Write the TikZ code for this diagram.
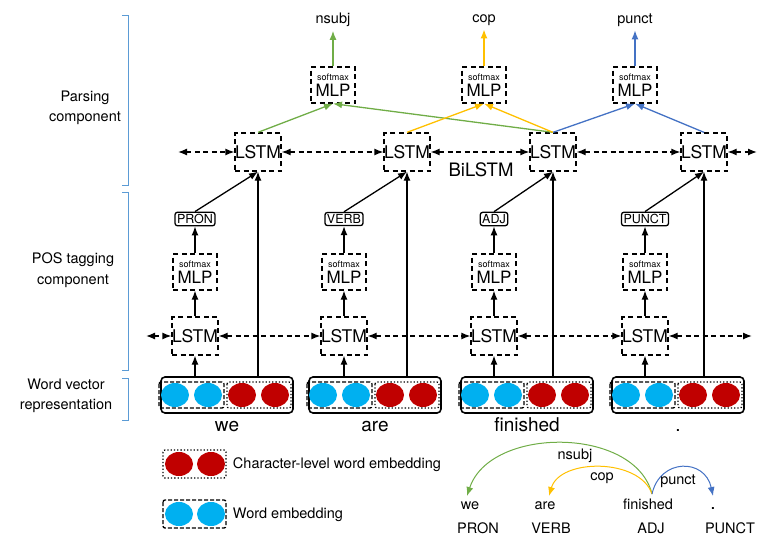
\documentclass[tikz,border=0pt]{standalone}
\usepackage{fontspec}
\setmainfont{TeX Gyre Heros}
\usetikzlibrary{arrows.meta,shapes.geometric}
\definecolor{cblue}{RGB}{0,176,240}
\definecolor{cred}{RGB}{192,0,0}
\definecolor{cgreen}{RGB}{112,173,71}
\definecolor{cyel}{RGB}{255,192,0}
\definecolor{cdblue}{RGB}{68,114,196}
\definecolor{cbrk}{RGB}{91,155,213}
\begin{document}
\begin{tikzpicture}[x=1pt,y=-1pt,line width=1.3pt,
 dsh/.style={dash pattern=on 5pt off 3.5pt},
 lstm/.style={draw,dsh,minimum width=46pt,minimum height=38pt,font=\fontsize{17.5}{17.5}\selectfont,inner sep=0pt},
 mlp/.style={draw,dsh,minimum width=44pt,minimum height=36pt,inner sep=0pt},
 tag/.style={draw,rounded corners=2.5pt,font=\fontsize{12.5}{12.5}\selectfont,inner sep=2pt},
 blk/.style={draw,line width=1.6pt,rounded corners=4pt,minimum width=132pt,minimum height=36pt},
 eb/.style={fill=cblue,ellipse,minimum width=28pt,minimum height=24pt,inner sep=0pt},
 er/.style={fill=cred,ellipse,minimum width=28pt,minimum height=24pt,inner sep=0pt},
 arr/.style={-{Latex[length=9pt,width=7pt]}},
 darr/.style={{Latex[length=9pt,width=7pt]}-{Latex[length=9pt,width=7pt]},dsh},
 wd/.style={font=\fontsize{19}{19}\selectfont},
 lab/.style={font=\fontsize{14.5}{14.5}\selectfont},
 brk/.style={cbrk,line width=1pt}]
\useasboundingbox (0,0) rectangle (763,554);
\newcommand{\mlplabel}{\shortstack{\fontsize{9}{9}\selectfont softmax\\[1pt]\fontsize{17}{17}\selectfont MLP}}
% brackets
\draw[brk] (122,15)--(128,15)--(128,185)--(122,185);
\draw[brk] (122,192)--(128,192)--(128,370)--(122,370);
\draw[brk] (122,378)--(128,378)--(128,420)--(122,420);
\node[lab,align=center] at (85,108) {Parsing\\[6pt]component};
\node[lab,align=center] at (73,270) {POS tagging\\[6pt]component};
\node[lab,align=center] at (66,396) {Word vector\\[5pt]representation};
% word blocks
\foreach \i/\x/\w/\px/\tt in {1/227/we/195/PRON,2/375/are/344/VERB,3/527/finished/494/ADJ,4/678/./645/PUNCT}{
 \node[blk] (b\i) at (\x,395) {};
 \node[eb] (e\i a) at (\x-52,395) {};
 \node[eb] (e\i b) at (\x-19,395) {};
 \node[er] (r\i a) at (\x+15,395) {};
 \node[er] (r\i b) at (\x+48,395) {};
 \draw[dash pattern=on 4pt off 2pt,rounded corners=2pt] (\x-68,382) rectangle (\x-3,408);
 \draw[dotted,rounded corners=2pt] (\x,382) rectangle (\x+64,408);
 \node[wd,anchor=base] (w\i) at (\x,431) {\w};
 \node[lstm] (pl\i) at (\px,336) {LSTM};
 \node[mlp] (pm\i) at (\px,272) {\mlplabel};
 \node[tag] (t\i) at (\px,219) {\tt};
 \draw[arr] (\px,377) -- (pl\i.south);
 \draw[arr] (pl\i) -- (pm\i);
 \draw[arr] (pm\i) -- (t\i);
}
\foreach \i/\x in {1/258,2/407,3/553,4/704}{
 \node[lstm] (l\i) at (\x,152) {LSTM};
 \draw[arr] (\x,377) -- (l\i.south);
}
\foreach \i in {1,2,3,4}{\draw[arr] (t\i.north) -- (l\i.south);}
\node[font=\fontsize{18.5}{18.5}\selectfont] (bil) at (481,170) {BiLSTM};
% horizontal dashed
\coordinate (pL) at (146,336); \coordinate (pR) at (752,336);
\draw[darr] (pL) -- (pl1); \draw[darr] (pl1)--(pl2); \draw[darr] (pl2)--(pl3); \draw[darr] (pl3)--(pl4); \draw[darr] (pl4)--(pR);
\coordinate (lL) at (178,152); \coordinate (lR) at (757,152);
\draw[darr] (lL) -- (l1); \draw[darr] (l1)--(l2); \draw[darr] (l2)--(l3); \draw[darr] (l3)--(l4); \draw[darr] (l4)--(lR);
% parse MLPs
\foreach \i/\x/\c/\t in {1/333/cgreen/nsubj,2/484/cyel/cop,3/635/cdblue/punct}{
 \node[mlp] (m\i) at (\x,85) {\mlplabel};
 \node[lab] (o\i) at (\x,20) {\t};
 \draw[arr,\c] (m\i.north) -- (o\i.south);
}
\draw[arr,cgreen] (l1.north) -- (m1.south);
\draw[arr,cgreen] (l3.north) -- (m1.south);
\draw[arr,cyel] (l2.north) -- (m2.south);
\draw[arr,cyel] (l3.north) -- (m2.south);
\draw[arr,cdblue] (l3.north) -- (m3.south);
\draw[arr,cdblue] (l4.north) -- (m3.south);
% legend
\node[er] (lr1) at (179,464) {}; \node[er] (lr2) at (211,464) {};
\draw[dotted,rounded corners=2pt] (163,450) rectangle (226,478);
\node[lab,anchor=west] (lt1) at (229,465) {Character-level word embedding};
\node[eb] (lb1) at (179,514) {}; \node[eb] (lb2) at (211,514) {};
\draw[dash pattern=on 4pt off 2pt,rounded corners=2pt] (163,500) rectangle (226,528);
\node[lab,anchor=west] (lt2) at (229,515) {Word embedding};
% dependency example
\node[lab,anchor=base] (dw1) at (470,509) {we};
\node[lab,anchor=base] (dw2) at (545,509) {are};
\node[lab,anchor=base] (dw3) at (648,509) {finished};
\node[lab,anchor=base,font=\fontsize{19}{19}\selectfont] (dw4) at (713,509) {.};
\node[lab,anchor=base] (dt1) at (478,533) {PRON};
\node[lab,anchor=base] (dt2) at (551,533) {VERB};
\node[lab,anchor=base] (dt3) at (651,533) {ADJ};
\node[lab,anchor=base] (dt4) at (730,533) {PUNCT};
\coordinate (src) at (652,494);
\draw[arr,cgreen,line width=1pt] (src) .. controls (635,426) and (490,426) .. (467,496);
\draw[arr,cyel,line width=1pt] (src) .. controls (640,458) and (560,458) .. (549,496);
\draw[arr,cdblue,line width=1pt] (src) .. controls (660,458) and (705,458) .. (713,496);
\node[lab] at (575,456) {nsubj};
\node[lab] at (602,478) {cop};
\node[lab] at (678,481) {punct};
\end{tikzpicture}
\end{document}
